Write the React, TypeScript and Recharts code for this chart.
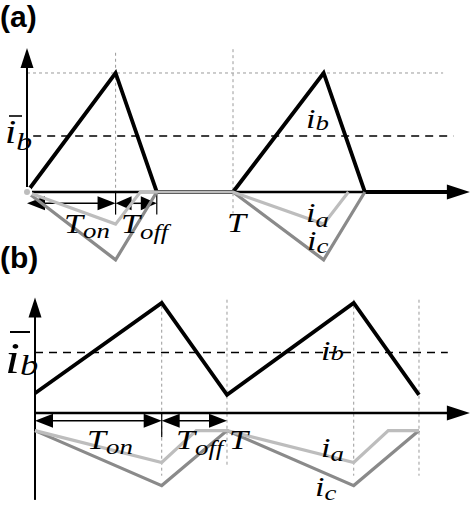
import { LineChart, Line, XAxis, YAxis, ReferenceLine } from 'recharts';

// time in units of T/10; current in units of the i_b peak / 10

// panel (a): discontinuous conduction
const ibA = [
  { x: 0, y: 0 }, { x: 4.3, y: 10 }, { x: 6.3, y: 0 }, { x: 10, y: 0 },
  { x: 14.4, y: 10 }, { x: 16.4, y: 0 }, { x: 20.6, y: 0 },
];
const iaA = [
  { x: 0, y: 0 }, { x: 4.3, y: -2.7 }, { x: 5.5, y: 0 }, { x: 10, y: 0 },
  { x: 14.4, y: -2.7 }, { x: 15.6, y: 0 },
];
const icA = [
  { x: 0, y: 0 }, { x: 4.3, y: -5.7 }, { x: 6.3, y: 0 }, { x: 8, y: null },
  { x: 10, y: 0 }, { x: 14.4, y: -5.7 }, { x: 16.4, y: 0 },
];
const meanA = 4.7;
const peakA = 10;
const tOnA = 4.3;
const tOffEndA = 6.3;
const periodA = 10;

// panel (b): continuous conduction
const ibB = [
  { x: 0, y: 1.8 }, { x: 6.6, y: 10 }, { x: 10, y: 1.65 }, { x: 16.6, y: 10 }, { x: 20, y: 1.65 },
];
const iaB = [
  { x: 0, y: -1.6 }, { x: 6.6, y: -4.5 }, { x: 8.4, y: -1.6 }, { x: 10, y: -1.6 },
  { x: 16.6, y: -4.5 }, { x: 18.4, y: -1.6 }, { x: 20, y: -1.6 },
];
const icB = [
  { x: 0, y: -1.6 }, { x: 6.6, y: -6.6 }, { x: 10, y: -1.6 }, { x: 16.6, y: -6.6 }, { x: 20, y: -1.6 },
];
const meanB = 5.5;
const tOnB = 6.6;
const periodB = 10;
const vLinesB = [6.6, 10, 16.6, 20];

const LIGHT = '#bdbdbd';
const DARK = '#8a8a8a';
const GUIDE = '#9a9a9a';
const SERIF = '"Liberation Serif", "DejaVu Serif", serif';
const SANS = '"Liberation Sans", Arial, sans-serif';

const arrow = (both: boolean, len: number, half: number, sw: number) => (p: any) => {
  const { x1, y1, x2, y2 } = p;
  const L = Math.hypot(x2 - x1, y2 - y1) || 1;
  const ux = (x2 - x1) / L;
  const uy = (y2 - y1) / L;
  const head = (tx: number, ty: number, dx: number, dy: number) => {
    const bx = tx - dx * len;
    const by = ty - dy * len;
    return `${tx},${ty} ${bx - dy * half},${by + dx * half} ${bx + dy * half},${by - dx * half}`;
  };
  const sx = both ? x1 + ux * len * 0.9 : x1;
  const sy = both ? y1 + uy * len * 0.9 : y1;
  return (
    <g>
      <line x1={sx} y1={sy} x2={x2 - ux * len * 0.9} y2={y2 - uy * len * 0.9} stroke="#000" strokeWidth={sw} />
      <polygon points={head(x2, y2, ux, uy)} fill="#000" />
      {both && <polygon points={head(x1, y1, -ux, -uy)} fill="#000" />}
    </g>
  );
};

const guide = { stroke: GUIDE, strokeWidth: 1, strokeDasharray: '3 3' };

// the source figure's lettering is a bit wider than the font
function Label({ x, y, main, sub, size = 28, subSize = 22, dy = 5 }: any) {
  return (
    <text
      transform={`translate(${x},${y}) scale(1.22,1)`}
      fontFamily={SERIF}
      fontStyle="italic"
      fontSize={size}
      fill="#000"
    >
      {main}
      {sub && (
        <tspan fontSize={subSize} dy={dy}>
          {sub}
        </tspan>
      )}
    </text>
  );
}

export default function App() {
  return (
    <div style={{ position: 'absolute', left: 0, top: 0, width: 474, height: 505, background: '#fff' }}>
      <div style={{ position: 'absolute', left: 0, top: 0 }}>
        <LineChart width={474} height={270} margin={{ top: 0, right: 0, bottom: 0, left: 0 }}>
          <XAxis type="number" dataKey="x" domain={[-1.311, 21.699]} hide allowDataOverflow />
          <YAxis type="number" dataKey="y" domain={[-6.555, 16.134]} hide allowDataOverflow />
          <ReferenceLine segment={[{ x: 0, y: peakA }, { x: 20.2, y: peakA }]} {...guide} />
          <ReferenceLine segment={[{ x: tOnA, y: 11.7 }, { x: tOnA, y: -1.5 }]} {...guide} />
          <ReferenceLine segment={[{ x: periodA, y: 12 }, { x: periodA, y: -1.8 }]} {...guide} />
          <ReferenceLine
            segment={[{ x: 0.3, y: meanA }, { x: 20.7, y: meanA }]}
            stroke="#000"
            strokeWidth={1.5}
            strokeDasharray="8 6"
          />
          <ReferenceLine segment={[{ x: 0, y: 0 }, { x: 0, y: 12.1 }]} shape={arrow(false, 20, 6.5, 2)} />
          <ReferenceLine segment={[{ x: 0, y: 0 }, { x: 21.5, y: 0 }]} shape={arrow(false, 23, 7.5, 2.5)} />
          <ReferenceLine segment={[{ x: tOnA, y: 0 }, { x: tOnA, y: -1.9 }]} stroke="#000" strokeWidth={1.2} />
          <ReferenceLine segment={[{ x: tOffEndA, y: 0 }, { x: tOffEndA, y: -1.9 }]} stroke="#000" strokeWidth={1.2} />
          <ReferenceLine segment={[{ x: 0, y: -0.95 }, { x: tOnA, y: -0.95 }]} shape={arrow(true, 18, 7, 1.5)} />
          <ReferenceLine segment={[{ x: tOnA, y: -0.95 }, { x: tOffEndA, y: -0.95 }]} shape={arrow(true, 16, 7, 1.5)} />
          <Line data={ibA} dataKey="y" type="linear" stroke="#000" strokeWidth={3.8} dot={false} isAnimationActive={false} />
          <Line data={icA} dataKey="y" type="linear" stroke={DARK} strokeWidth={3.2} dot={false} isAnimationActive={false} />
          <Line data={iaA} dataKey="y" type="linear" stroke={LIGHT} strokeWidth={3.2} dot={false} isAnimationActive={false} />
        </LineChart>
      </div>
      <div style={{ position: 'absolute', left: 0, top: 270 }}>
        <LineChart width={474} height={235} margin={{ top: 0, right: 0, bottom: 0, left: 0 }}>
          <XAxis type="number" dataKey="x" domain={[-1.823, 22.865]} hide allowDataOverflow />
          <YAxis type="number" dataKey="y" domain={[-8.364, 13]} hide allowDataOverflow />
          {vLinesB.map((v) => (
            <ReferenceLine key={v} segment={[{ x: v, y: 10.3 }, { x: v, y: v === 10 ? -4.9 : -5.7 }]} {...guide} />
          ))}
          <ReferenceLine
            segment={[{ x: 0, y: meanB }, { x: 21.5, y: meanB }]}
            stroke="#000"
            strokeWidth={1.5}
            strokeDasharray="8 6"
          />
          <ReferenceLine segment={[{ x: 0, y: -7.9 }, { x: 0, y: 10.5 }]} shape={arrow(false, 20, 6.5, 2)} />
          <ReferenceLine segment={[{ x: 0, y: 0 }, { x: 22.65, y: 0 }]} shape={arrow(false, 23, 7.5, 2.5)} />
          <ReferenceLine segment={[{ x: tOnB, y: 0 }, { x: tOnB, y: -2.2 }]} stroke="#000" strokeWidth={1.2} />
          <ReferenceLine segment={[{ x: 0, y: -0.7 }, { x: tOnB, y: -0.7 }]} shape={arrow(true, 18, 7, 1.5)} />
          <ReferenceLine segment={[{ x: tOnB, y: -0.7 }, { x: periodB, y: -0.7 }]} shape={arrow(true, 18, 7, 1.5)} />
          <Line data={ibB} dataKey="y" type="linear" stroke="#000" strokeWidth={3.8} dot={false} isAnimationActive={false} />
          <Line data={icB} dataKey="y" type="linear" stroke={DARK} strokeWidth={3.2} dot={false} isAnimationActive={false} />
          <Line data={iaB} dataKey="y" type="linear" stroke={LIGHT} strokeWidth={3.2} dot={false} isAnimationActive={false} />
        </LineChart>
      </div>
      <svg width={474} height={505} style={{ position: 'absolute', left: 0, top: 0, pointerEvents: 'none' }}>
        <text x={0} y={27} fontFamily={SANS} fontWeight="bold" fontSize={30}>(a)</text>
        <text x={0} y={268} fontFamily={SANS} fontWeight="bold" fontSize={30}>(b)</text>

        {/* panel (a) labels */}
        <line x1={9} y1={116} x2={22} y2={116} stroke="#000" strokeWidth={1.6} />
        <Label x={5} y={143} main="i" sub="b" size={33} subSize={26} dy={7} />
        <Label x={306} y={128} main="i" sub="b" subSize={22} dy={2} />
        <Label x={306} y={222} main="i" sub="a" subSize={22} dy={5} />
        <Label x={307} y={250} main="i" sub="c" subSize={22} dy={3} />
        <Label x={227} y={232} main="T" />
        <Label x={64} y={233} main="T" sub="on" />
        <Label x={121} y={233} main="T" sub="off" dy={6} />

        {/* panel (b) labels */}
        <line x1={10} y1={332} x2={30} y2={332} stroke="#000" strokeWidth={2} />
        <Label x={5} y={373} main="i" sub="b" size={44} subSize={30} dy={2} />
        <Label x={321} y={360} main="i" sub="b" subSize={22} dy={0} />
        <Label x={321} y={457} main="i" sub="a" subSize={22} dy={4} />
        <Label x={315} y={496} main="i" sub="c" subSize={22} dy={4} />
        <Label x={229} y={449} main="T" />
        <Label x={87} y={449} main="T" sub="on" />
        <Label x={176} y={449} main="T" sub="off" dy={6} />
      </svg>
    </div>
  );
}
